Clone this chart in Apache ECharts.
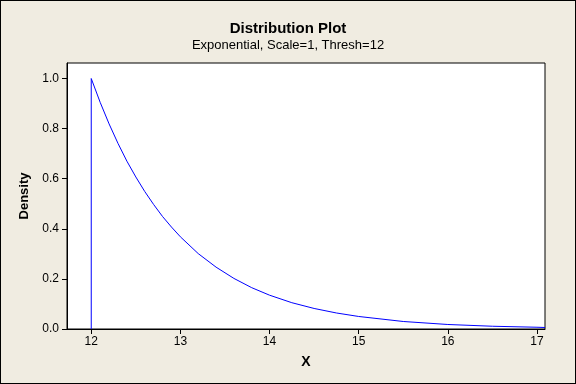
<!DOCTYPE html>
<html><head><meta charset="utf-8">
<script src="https://cdn.jsdelivr.net/npm/echarts@6/dist/echarts.min.js"></script>
<style>html,body{margin:0;padding:0;background:#F0ECE1;}#c{width:576px;height:384px;box-sizing:border-box;border:1px solid #000;}</style>
</head><body><div id="c"></div>
<script>
const titleText = 'Distribution Plot';
const subtitleText = 'Exponential, Scale=1, Thresh=12';
const xValues = [12.0, 12.0, 12.1, 12.2, 12.3, 12.4, 12.5, 12.6, 12.7, 12.8, 12.9, 13.0, 13.2, 13.4, 13.6, 13.8, 14.0, 14.25, 14.5, 14.75, 15.0, 15.5, 16.0, 16.5, 17.0, 17.09];
const densityValues = [0.0, 1.0, 0.905, 0.819, 0.741, 0.670, 0.607, 0.549, 0.497, 0.449, 0.407, 0.368, 0.301, 0.247, 0.202, 0.165, 0.135, 0.105, 0.082, 0.064, 0.050, 0.030, 0.018, 0.011, 0.007, 0.006];
const xTicks = [12, 13, 14, 15, 16, 17];
const yTicks = [0, 0.2, 0.4, 0.6, 0.8, 1.0];

const font = "'Liberation Sans', Arial, sans-serif";
const chart = echarts.init(document.getElementById('c'));
chart.setOption({
  backgroundColor: '#F0ECE1',
  animation: false,
  title: {
    text: titleText, subtext: subtitleText, left: 'center', top: 15, itemGap: 3,
    textStyle: {fontFamily: font, fontWeight: 'bold', fontSize: 15, color: '#000'},
    subtextStyle: {fontFamily: font, fontSize: 13, color: '#000'}
  },
  grid: {left: 66, top: 62, right: 30, bottom: 54, show: true, backgroundColor: '#fff', borderColor: '#000', borderWidth: 1},
  xAxis: {
    type: 'value', min: 11.728, max: 17.09,
    name: 'X', nameLocation: 'middle', nameGap: 26,
    nameTextStyle: {fontFamily: font, fontWeight: 'bold', fontSize: 14, color: '#000'},
    axisLine: {onZero: false, lineStyle: {color: '#000'}},
    axisTick: {show: true, length: 5, lineStyle: {color: '#000'}, customValues: xTicks},
    axisLabel: {fontFamily: font, fontSize: 12, color: '#000', margin: 7, customValues: xTicks},
    splitLine: {show: false}
  },
  yAxis: {
    type: 'value', min: 0, max: 1.062,
    name: 'Density', nameLocation: 'middle', nameGap: 35,
    nameTextStyle: {fontFamily: font, fontWeight: 'bold', fontSize: 13, color: '#000'},
    axisLine: {show: true, onZero: false, lineStyle: {color: '#000'}},
    axisTick: {show: true, length: 5, lineStyle: {color: '#000'}, customValues: yTicks},
    axisLabel: {fontFamily: font, fontSize: 12, color: '#000', margin: 8, customValues: yTicks, formatter: v => v.toFixed(1)},
    splitLine: {show: false}
  },
  series: [{
    type: 'line', data: xValues.map((x, i) => [x, densityValues[i]]),
    showSymbol: false, smooth: false, lineStyle: {color: '#0000FF', width: 1}
  }]
});
</script></body></html>
